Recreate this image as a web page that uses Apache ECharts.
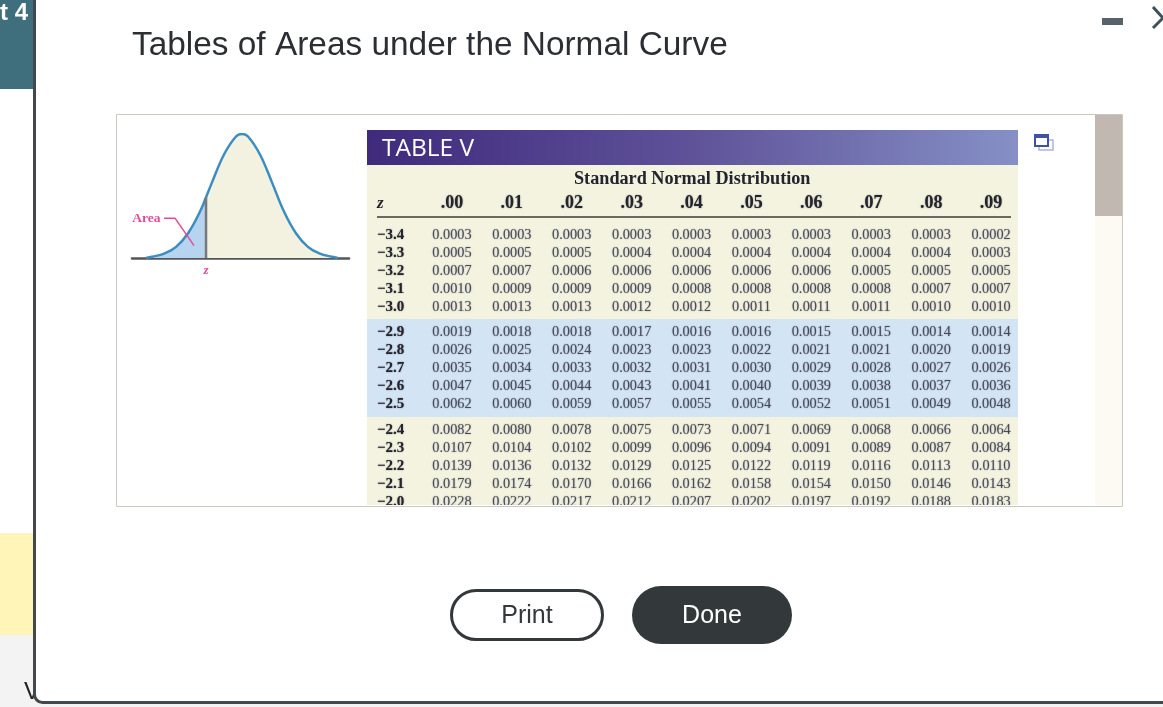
<!DOCTYPE html>
<html>
<head>
<meta charset="utf-8">
<script src="https://cdn.jsdelivr.net/npm/echarts@6/dist/echarts.min.js"></script>
<style>
html, body { margin: 0; padding: 0; background: #fff; overflow: hidden; }
#main { width: 1163px; height: 707px; }
</style>
</head>
<body>
<div id="main"></div>
<script>
var colLabels = ['.00', '.01', '.02', '.03', '.04', '.05', '.06', '.07', '.08', '.09'];

var rowsA = ['−3.4', '−3.3', '−3.2', '−3.1', '−3.0'];
var valsA = [
  [0.0003, 0.0003, 0.0003, 0.0003, 0.0003, 0.0003, 0.0003, 0.0003, 0.0003, 0.0002],
  [0.0005, 0.0005, 0.0005, 0.0004, 0.0004, 0.0004, 0.0004, 0.0004, 0.0004, 0.0003],
  [0.0007, 0.0007, 0.0006, 0.0006, 0.0006, 0.0006, 0.0006, 0.0005, 0.0005, 0.0005],
  [0.0010, 0.0009, 0.0009, 0.0009, 0.0008, 0.0008, 0.0008, 0.0008, 0.0007, 0.0007],
  [0.0013, 0.0013, 0.0013, 0.0012, 0.0012, 0.0011, 0.0011, 0.0011, 0.0010, 0.0010]
];
var rowsB = ['−2.9', '−2.8', '−2.7', '−2.6', '−2.5'];
var valsB = [
  [0.0019, 0.0018, 0.0018, 0.0017, 0.0016, 0.0016, 0.0015, 0.0015, 0.0014, 0.0014],
  [0.0026, 0.0025, 0.0024, 0.0023, 0.0023, 0.0022, 0.0021, 0.0021, 0.0020, 0.0019],
  [0.0035, 0.0034, 0.0033, 0.0032, 0.0031, 0.0030, 0.0029, 0.0028, 0.0027, 0.0026],
  [0.0047, 0.0045, 0.0044, 0.0043, 0.0041, 0.0040, 0.0039, 0.0038, 0.0037, 0.0036],
  [0.0062, 0.0060, 0.0059, 0.0057, 0.0055, 0.0054, 0.0052, 0.0051, 0.0049, 0.0048]
];
var rowsC = ['−2.4', '−2.3', '−2.2', '−2.1', '−2.0'];
var valsC = [
  [0.0082, 0.0080, 0.0078, 0.0075, 0.0073, 0.0071, 0.0069, 0.0068, 0.0066, 0.0064],
  [0.0107, 0.0104, 0.0102, 0.0099, 0.0096, 0.0094, 0.0091, 0.0089, 0.0087, 0.0084],
  [0.0139, 0.0136, 0.0132, 0.0129, 0.0125, 0.0122, 0.0119, 0.0116, 0.0113, 0.0110],
  [0.0179, 0.0174, 0.0170, 0.0166, 0.0162, 0.0158, 0.0154, 0.0150, 0.0146, 0.0143],
  [0.0228, 0.0222, 0.0217, 0.0212, 0.0207, 0.0202, 0.0197, 0.0192, 0.0188, 0.0183]
];

// bell curve, height as a share of the peak
var tailPoints = [[-3.2, 0], [-3.0, 0.01], [-2.6, 0.035], [-2.2, 0.09], [-1.8, 0.2], [-1.4, 0.375], [-1.2, 0.49]];
var bodyPoints = [[-1.2, 0.49], [-1.0, 0.61], [-0.6, 0.835], [-0.2, 0.98], [0, 1], [0.2, 0.98], [0.6, 0.835],
  [1.0, 0.61], [1.4, 0.375], [1.8, 0.2], [2.2, 0.09], [2.6, 0.035], [3.0, 0.01], [3.2, 0]];
var zLine = [[-1.2, 0], [-1.2, 0.49]];
var areaLeader = [[-2.6, 0.32], [-2.23, 0.32], [-1.6, 0.1]];

var cellFont = 'Liberation Serif';
var cellColor = '#2f3345';

function cellData(vals) {
  var out = [];
  vals.forEach(function (row, r) {
    row.forEach(function (v, c) { out.push([c, r, v]); });
  });
  return out;
}

function tableGrid(top) {
  return { left: 422, top: top, width: 599, height: 90, containLabel: false };
}

function tableX(idx, showHead) {
  return {
    type: 'category', gridIndex: idx, data: colLabels, position: 'top',
    axisLine: { show: false }, axisTick: { show: false }, splitLine: { show: false },
    axisLabel: {
      show: showHead, interval: 0, margin: 14,
      fontFamily: cellFont, fontWeight: 'bold', fontSize: 18, color: '#23242c',
      textShadowColor: 'rgba(35,36,44,0.6)', textShadowBlur: 1.5
    }
  };
}

function tableY(idx, rows) {
  return {
    type: 'category', gridIndex: idx, data: rows, inverse: true,
    axisLine: { show: false }, axisTick: { show: false }, splitLine: { show: false },
    axisLabel: {
      interval: 0, align: 'left', margin: 45,
      fontFamily: cellFont, fontWeight: 'bold', fontSize: 15, color: '#23242c',
      textShadowColor: 'rgba(35,36,44,0.6)', textShadowBlur: 1.5
    }
  };
}

function tableSeries(idx, vals) {
  return {
    type: 'scatter', xAxisIndex: idx, yAxisIndex: idx, data: cellData(vals),
    symbolSize: 1, itemStyle: { color: 'rgba(0,0,0,0)' }, silent: true, clip: false,
    label: {
      show: true, position: 'inside',
      formatter: function (p) { return p.value[2].toFixed(4); },
      fontFamily: cellFont, fontSize: 14.3, color: cellColor,
      textShadowColor: 'rgba(47,51,69,0.7)', textShadowBlur: 1.5
    }
  };
}

function box(x, y, w, h, fill, extra) {
  var el = { type: 'rect', shape: { x: x, y: y, width: w, height: h }, style: { fill: fill } };
  for (var k in (extra || {})) el[k] = extra[k];
  return el;
}

var sans = 'Liberation Sans';
var chart = echarts.init(document.getElementById('main'));
chart.setOption({
  animation: false,
  backgroundColor: '#ffffff',
  title: [
    { text: 'Tables of Areas under the Normal Curve', left: 132, top: 29, padding: 0, textStyle: { fontFamily: sans, fontWeight: 'normal', fontSize: 33.4, color: '#2b2e33' } },
    { text: 'TABLE V', left: 382, top: 137, padding: 0, textStyle: { fontFamily: 'Open Sans', fontWeight: 'normal', fontSize: 24.5, color: '#ffffff' } },
    { text: 'Standard Normal Distribution', left: 574, top: 170, padding: 0, textStyle: { fontFamily: cellFont, fontWeight: 'bold', fontSize: 18.2, color: '#23242c' } },
    { text: 'z', left: 377, top: 195, padding: 0, textStyle: { fontFamily: cellFont, fontWeight: 'bold', fontStyle: 'italic', fontSize: 17, color: '#23242c' } }
  ],
  grid: [
    tableGrid(226), tableGrid(323), tableGrid(421),
    { left: 132, top: 134, width: 217, height: 124 }
  ],
  xAxis: [
    tableX(0, true), tableX(1, false), tableX(2, false),
    {
      type: 'value', gridIndex: 3, min: -3.67, max: 3.57,
      axisLine: { show: true, onZero: false, lineStyle: { color: '#55565a', width: 2.5 } },
      axisTick: { show: false }, splitLine: { show: false },
      axisLabel: {
        customValues: [-1.2], formatter: function () { return 'z'; }, margin: 6,
        fontFamily: cellFont, fontStyle: 'italic', fontWeight: 'bold', fontSize: 13, color: '#e8489a'
      }
    }
  ],
  yAxis: [
    tableY(0, rowsA), tableY(1, rowsB), tableY(2, rowsC),
    { type: 'value', gridIndex: 3, min: 0, max: 1, show: false }
  ],
  series: [
    tableSeries(0, valsA),
    tableSeries(1, valsB),
    tableSeries(2, valsC),
    {
      type: 'line', xAxisIndex: 3, yAxisIndex: 3, data: bodyPoints, smooth: 0.4, showSymbol: false,
      lineStyle: { color: '#3c8dc0', width: 2.5 }, areaStyle: { color: '#f3f2e0', opacity: 1 }
    },
    {
      type: 'line', xAxisIndex: 3, yAxisIndex: 3, data: tailPoints, smooth: 0.4, showSymbol: false,
      lineStyle: { color: '#3c8dc0', width: 2.5 }, areaStyle: { color: '#b6d4ef', opacity: 1 }
    },
    {
      type: 'line', xAxisIndex: 3, yAxisIndex: 3, data: zLine, showSymbol: false,
      lineStyle: { color: '#77787c', width: 2.5 }
    },
    {
      type: 'line', xAxisIndex: 3, yAxisIndex: 3, data: areaLeader, showSymbol: false,
      lineStyle: { color: '#e8489a', width: 1.5 },
      markPoint: {
        symbol: 'circle', symbolSize: 1, itemStyle: { color: 'rgba(0,0,0,0)' },
        data: [{ coord: areaLeader[0], value: 'Area' }],
        label: {
          show: true, position: 'left', distance: 3, formatter: 'Area',
          fontFamily: cellFont, fontWeight: 'bold', fontSize: 13.5, color: '#e8489a'
        }
      }
    }
  ],
  graphic: [
    // page behind the dialog
    box(0, 0, 33, 89, '#3f6f7d'),
    box(0, 533, 33, 102, '#fff5b8'),
    box(0, 635, 1163, 72, '#f3f3f3'),
    { type: 'text', x: 24, y: 680, style: { text: 'V', font: '24px "Liberation Sans"', fill: '#222' } },
    { type: 'text', x: 28, y: 1, style: { text: 't 4', font: 'bold 24px "Liberation Sans"', fill: '#fff', align: 'right' } },
    // dialog
    {
      type: 'rect', shape: { x: 34.5, y: -20, width: 1300, height: 722.5, r: 8 },
      style: { fill: '#fff', stroke: '#43484d', lineWidth: 3 }
    },
    // table backgrounds
    box(1095, 115, 27, 390, '#fdf9f3'),
    box(1095, 115, 27, 101, '#c1b8b1'),
    box(367, 165, 651, 155, '#f4f3e0'),
    box(367, 319, 651, 98, '#d3e4f5'),
    box(367, 417, 651, 89, '#f4f3e0'),
    {
      type: 'rect', shape: { x: 367, y: 130, width: 651, height: 35 },
      style: {
        fill: new echarts.graphic.LinearGradient(0, 0, 1, 0, [
          { offset: 0, color: '#3f2a7c' }, { offset: 0.5, color: '#5f5299' }, { offset: 1, color: '#8590c6' }
        ])
      }
    },
    { type: 'line', shape: { x1: 377, y1: 217, x2: 1011, y2: 217 }, style: { stroke: '#3c3c3c', lineWidth: 1.5 } },
    // copy icon
    { type: 'rect', shape: { x: 1039, y: 140, width: 14, height: 10 }, style: { fill: '#fff', stroke: '#aab4de', lineWidth: 1.5 } },
    { type: 'rect', shape: { x: 1035, y: 135, width: 13, height: 11 }, style: { fill: '#fff', stroke: '#3f51a5', lineWidth: 2 } },
    { type: 'line', shape: { x1: 1035, y1: 137, x2: 1048, y2: 137 }, style: { stroke: '#3f51a5', lineWidth: 2 } },
    // clip the last row at the frame, then the frame
    box(367, 505, 660, 17, '#ffffff', { z: 50 }),
    {
      type: 'rect', z: 60, shape: { x: 116.5, y: 114.5, width: 1006, height: 392 },
      style: { fill: 'rgba(255,255,255,0)', stroke: '#c9c9c4', lineWidth: 1 }
    },
    // window controls
    box(1102, 18, 21, 7, '#59626b'),
    {
      type: 'polyline', shape: { points: [[1153, 7], [1163, 18], [1153, 28]] },
      style: { fill: 'none', stroke: '#3f4f5c', lineWidth: 3 }
    },
    // buttons
    {
      type: 'rect', shape: { x: 451.5, y: 590.5, width: 151, height: 49, r: 24.5 },
      style: { fill: '#fff', stroke: '#33383b', lineWidth: 3 }
    },
    { type: 'text', x: 527, y: 616, style: { text: 'Print', font: '25px "Liberation Sans"', fill: '#33383b', align: 'center', verticalAlign: 'middle' } },
    { type: 'rect', shape: { x: 632, y: 586, width: 160, height: 58, r: 29 }, style: { fill: '#33383b' } },
    { type: 'text', x: 712, y: 616, style: { text: 'Done', font: '25px "Liberation Sans"', fill: '#fff', align: 'center', verticalAlign: 'middle' } }
  ]
});
</script>
</body>
</html>
